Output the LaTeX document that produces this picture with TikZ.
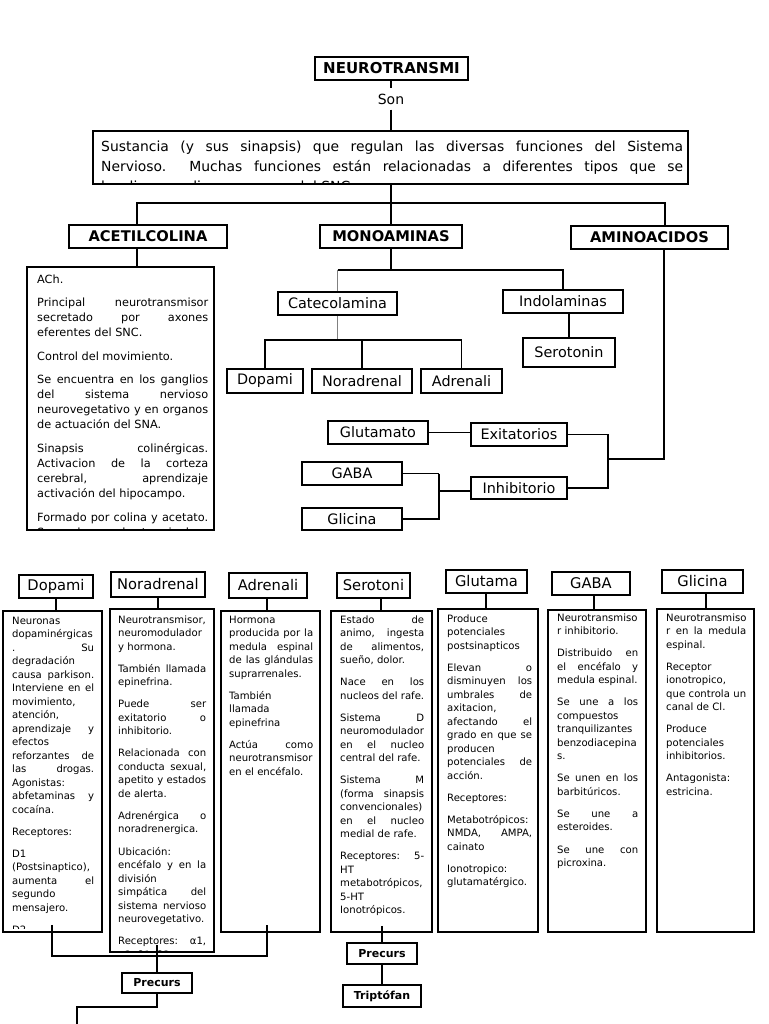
\documentclass[tikz,border=0pt]{standalone}
\usepackage{fontspec}
\setmainfont{DejaVu Sans}
\usetikzlibrary{calc}
\frenchspacing
\newcommand\jl[1]{\hbox to\hsize{\spaceskip=0.32em plus 1fil\relax #1\hskip0pt plus 0.001fil}}
\newcommand\nl[1]{\hbox{#1}}
\newcommand\pg{\vskip 8.6pt}
\newcommand\dtx[2]{\vtop{\hsize=#1pt\relax #2}}
\newcommand\bx[7]{\node[#1, minimum width={(#4)-(#2)}, minimum height={(#5)-(#3)}] (#6) at ({((#2)+(#4))/2},{((#3)+(#5))/2}) {#7};}
\tikzset{
 hb/.style={draw, line width=2pt, inner sep=0pt, font=\bfseries\fontsize{14.7}{16}\selectfont},
 lb/.style={draw, line width=1.8pt, inner sep=0pt, font=\fontsize{14.4}{16}\selectfont},
 bh/.style={draw, line width=1.8pt, inner sep=0pt, font=\fontsize{14.7}{16}\selectfont},
 pb/.style={draw, line width=2pt, inner sep=0pt, font=\bfseries\fontsize{11}{13}\selectfont},
 bigbox/.style={draw, line width=2.4pt, inner sep=0pt},
 dbox/.style={draw, line width=1.8pt, inner sep=0pt},
 dtext/.style={inner sep=0pt, font=\fontsize{10.1}{13.5}\selectfont},
 atext/.style={inner sep=0pt, font=\fontsize{11.3}{15}\selectfont},
 btext/.style={inner sep=0pt, font=\fontsize{13.9}{20}\selectfont},
 lbl/.style={inner sep=0pt, minimum height=21pt, font=\fontsize{14}{16}\selectfont},
 conn/.style={line width=1.8pt},
 thinc/.style={line width=0.9pt},
}
\begin{document}
\begin{tikzpicture}[x=1pt,y=-1pt]
\useasboundingbox (0,0) rectangle (768,1024);
% ---------- top ----------
\bx{hb,font=\bfseries\fontsize{15}{16}\selectfont}{315}{57}{468}{80}{neuro}{NEUROTRANSMI}
\node[lbl] (son) at (391,99) {Son};
\bx{bigbox}{93}{131}{688}{184}{big}{}
\begin{scope}
\clip (94.5,132.5) rectangle (686.5,182.8);
\node[btext, anchor=base west] (bigt) at (101,151.5) {\dtx{582}{%
\jl{Sustancia (y sus sinapsis) que regulan las diversas funciones del Sistema}
\jl{Nervioso.\ \ Muchas funciones están relacionadas a diferentes tipos que se}
\nl{localizan en diversas zonas del SNC.}}};
\end{scope}
\draw[conn] (neuro.south -| son) -- (son.north);
\draw[conn] (son.south) -- (son.south |- big.north);

\bx{hb}{69}{225}{227}{248}{acet}{ACETILCOLINA}
\bx{hb}{320}{225}{462}{248}{mono}{MONOAMINAS}
\bx{hb}{571}{226}{728}{249}{amino}{AMINOACIDOS}
\coordinate (jc) at (391,203);
\coordinate (jl) at (137,203);
\coordinate (jr) at (665,203);
\draw[conn] (big.south -| jc) -- (jc);
\draw[conn] (acet.north -| jl) -- (jl) -- (jr) -- (amino.north -| jr);
\draw[conn] (jc) -- (mono.north -| jc);

% ACh box
\bx{dbox}{27}{267}{214}{530}{ach}{}
\draw[conn] (acet.south -| jl) -- (ach.north -| jl);
\begin{scope}
\clip (28,268) rectangle (213,529);
\node[atext, anchor=base west] (acht) at (37,283) {\dtx{171}{%
\nl{ACh.}\pg
\jl{Principal neurotransmisor}\jl{secretado por axones}\nl{eferentes del SNC.}\pg
\nl{Control del movimiento.}\pg
\jl{Se encuentra en los ganglios}\jl{del sistema nervioso}\jl{neurovegetativo y en organos}\nl{de actuación del SNA.}\pg
\jl{Sinapsis colinérgicas.}\jl{Activacion de la corteza}\jl{cerebral, aprendizaje}\nl{activación del hipocampo.}\pg
\jl{Formado por colina y acetato.}\jl{Se produce en las terminales axónicas}}};
\end{scope}

% Monoaminas branch
\bx{lb}{278}{292}{397}{315}{cate}{Catecolamina}
\bx{lb}{503}{290}{623}{313}{indo}{Indolaminas}
\bx{lb}{523}{338}{615}{367}{sero}{Serotonin}
\bx{lb}{227}{369}{303}{393}{dop}{Dopami}
\bx{lb}{312}{369}{412}{393}{nor}{Noradrenal}
\bx{lb}{421}{369}{502}{393}{adr}{Adrenali}
\coordinate (mj) at (391,270);
\draw[conn] (mono.south -| mj) -- (mj);
\draw[thinc, gray] (cate.north) -- (cate.north |- mj);
\draw[conn] (cate.north |- mj) -- (mj) -| (indo.north);
\draw[conn] (sero.north) -- (sero.north |- indo.south);
\coordinate (cj) at (337.5,340);
\draw[thinc, gray] (cate.south) -- (cj);
\draw[conn] (dop.north) |- (cj) -| (adr.north);
\draw[conn] (nor.north) -- (nor.north |- cj);

% Aminoacidos branch
\bx{lb}{328}{421}{428}{444}{glu}{Glutamato}
\bx{lb}{471}{423}{567}{446}{exi}{Exitatorios}
\bx{lb}{302}{462}{402}{485}{gaba}{GABA}
\bx{lb}{302}{508}{402}{530}{glic}{Glicina}
\bx{lb}{471}{477}{567}{499}{inh}{Inhibitorio}
\coordinate (ax) at (664,459);
\coordinate (ay) at (608,459);
\draw[conn] (amino.south -| ax) -- (ax) -- (ay);
\draw[conn] (exi.east) -| (ay) |- (inh.east);
\draw[thinc] (glu.east) -- (glu.east -| exi.west);
\coordinate (gx) at (439,491);
\draw[thinc] (gaba.east) -- (gaba.east -| gx);
\draw[conn] (gaba.east -| gx) -- (gx) |- (glic.east);
\draw[conn] (gx) -- (gx -| inh.west);

% ---------- bottom columns ----------
% Dopami
\bx{bh}{19}{575}{93}{598}{hdop}{Dopami}
\bx{dbox}{3}{611}{102}{932}{ddop}{}
\coordinate (cdop) at (56,0);
\draw[conn] (hdop.south -| cdop) -- (ddop.north -| cdop);
\begin{scope}
\clip (4,612) rectangle (101,928);
\node[dtext, anchor=base west] (tdop) at (12,624) {\dtx{82}{%
\jl{Neuronas}\jl{dopaminérgicas}\jl{. Su}\jl{degradación}\jl{causa parkison.}\jl{Interviene en el}\jl{movimiento,}\jl{atención,}\jl{aprendizaje y}\jl{efectos}\jl{reforzantes de}\jl{las drogas.}\jl{Agonistas:}\jl{abfetaminas y}\nl{cocaína.}\pg
\nl{Receptores:}\pg
\jl{D1}\jl{(Postsinaptico),}\jl{aumenta el}\jl{segundo}\nl{mensajero.}\pg
\nl{D2}}};
\end{scope}

% Noradrenal
\bx{bh}{111}{572}{205}{597}{hnor}{Noradrenal}
\bx{dbox}{110}{609}{214}{952}{dnor}{}
\coordinate (cnor) at (158,0);
\draw[conn] (hnor.south -| cnor) -- (dnor.north -| cnor);
\begin{scope}
\clip (111,610) rectangle (213,950);
\node[dtext, anchor=base west] (tnor) at (118,623) {\dtx{88}{%
\jl{Neurotransmisor,}\jl{neuromodulador}\nl{y hormona.}\pg
\jl{También llamada}\nl{epinefrina.}\pg
\jl{Puede ser}\jl{exitatorio o}\nl{inhibitorio.}\pg
\jl{Relacionada con}\jl{conducta sexual,}\jl{apetito y estados}\nl{de alerta.}\pg
\jl{Adrenérgica o}\nl{noradrenergica.}\pg
\jl{Ubicación:}\jl{encéfalo y en la}\jl{división}\jl{simpática del}\jl{sistema nervioso}\nl{neurovegetativo.}\pg
\jl{Receptores: α1,}\nl{α2, β1, β2.}}};
\end{scope}

% Adrenali
\bx{bh}{229}{573}{307}{598}{hadr}{Adrenali}
\bx{dbox}{221}{611}{320}{932}{dadr}{}
\coordinate (cadr) at (267,0);
\draw[conn] (hadr.south -| cadr) -- (dadr.north -| cadr);
\begin{scope}
\clip (222,612) rectangle (319,929);
\node[dtext, anchor=base west] (tadr) at (229,623) {\dtx{84}{%
\jl{Hormona}\jl{producida por la}\jl{medula espinal}\jl{de las glándulas}\nl{suprarrenales.}\pg
\jl{También}\jl{llamada}\nl{epinefrina}\pg
\jl{Actúa como}\jl{neurotransmisor}\nl{en el encéfalo.}}};
\end{scope}

% Serotoni
\bx{bh}{337}{573}{410}{598}{hser}{Serotoni}
\bx{dbox}{331}{611}{432}{932}{dser}{}
\coordinate (cser) at (381,0);
\draw[conn] (hser.south -| cser) -- (dser.north -| cser);
\begin{scope}
\clip (332,612) rectangle (431,929);
\node[dtext, anchor=base west] (tser) at (340,623) {\dtx{84}{%
\jl{Estado de}\jl{animo, ingesta}\jl{de alimentos,}\nl{sueño, dolor.}\pg
\jl{Nace en los}\nl{nucleos del rafe.}\pg
\jl{Sistema D}\jl{neuromodulador}\jl{en el nucleo}\nl{central del rafe.}\pg
\jl{Sistema M}\jl{(forma sinapsis}\jl{convencionales)}\jl{en el nucleo}\nl{medial de rafe.}\pg
\jl{Receptores: 5-}\jl{HT}\jl{metabotrópicos,}\jl{5-HT}\nl{Ionotrópicos.}}};
\end{scope}

% Glutama
\bx{bh}{446}{570}{527}{593}{hglu}{Glutama}
\bx{dbox}{438}{609}{538}{932}{dglu}{}
\coordinate (cglu) at (486,0);
\draw[conn] (hglu.south -| cglu) -- (dglu.north -| cglu);
\begin{scope}
\clip (439,610) rectangle (537,929);
\node[dtext, anchor=base west] (tglu) at (447,622) {\dtx{85}{%
\jl{Produce}\jl{potenciales}\nl{postsinapticos}\pg
\jl{Elevan o}\jl{disminuyen los}\jl{umbrales de}\jl{axitacion,}\jl{afectando el}\jl{grado en que se}\jl{producen}\jl{potenciales de}\nl{acción.}\pg
\nl{Receptores:}\pg
\jl{Metabotrópicos:}\jl{NMDA, AMPA,}\nl{cainato}\pg
\jl{Ionotropico:}\nl{glutamatérgico.}}};
\end{scope}

% GABA
\bx{bh}{552}{572}{630}{595}{hgab}{GABA}
\bx{dbox}{548}{610}{646}{932}{dgab}{}
\coordinate (cgab) at (594,0);
\draw[conn] (hgab.south -| cgab) -- (dgab.north -| cgab);
\begin{scope}
\clip (549,611) rectangle (645,929);
\node[dtext, anchor=base west] (tgab) at (557,621) {\dtx{81}{%
\jl{Neurotransmiso}\nl{r inhibitorio.}\pg
\jl{Distribuido en}\jl{el encéfalo y}\nl{medula espinal.}\pg
\jl{Se une a los}\jl{compuestos}\jl{tranquilizantes}\jl{benzodiacepina}\nl{s.}\pg
\jl{Se unen en los}\nl{barbitúricos.}\pg
\jl{Se une a}\nl{esteroides.}\pg
\jl{Se une con}\nl{picroxina.}}};
\end{scope}

% Glicina
\bx{bh}{662}{570}{743}{593}{hgli}{Glicina}
\bx{dbox}{657}{609}{754}{932}{dgli}{}
\coordinate (cgli) at (706,0);
\draw[conn] (hgli.south -| cgli) -- (dgli.north -| cgli);
\begin{scope}
\clip (658,610) rectangle (753,929);
\node[dtext, anchor=base west] (tgli) at (666,621) {\dtx{80}{%
\jl{Neurotransmiso}\jl{r en la medula}\nl{espinal.}\pg
\jl{Receptor}\jl{ionotropico,}\jl{que controla un}\nl{canal de Cl.}\pg
\jl{Produce}\jl{potenciales}\nl{inhibitorios.}\pg
\jl{Antagonista:}\nl{estricina.}}};
\end{scope}

% bottom connectors
\coordinate (dl) at (52,956);
\coordinate (dr) at (267,956);
\draw[conn] ($(ddop.south -| dl)+(0,-8)$) -- (dl) -- (dr) -- ($(dadr.south -| dr)+(0,-8)$);
\bx{pb}{122}{973}{192}{993}{pre1}{Precurs}
\draw[conn] ($(dnor.south -| pre1)+(0,-8)$) -- (pre1.north);
\coordinate (pa) at (157,1007);
\coordinate (pbb) at (77,1007);
\coordinate (pend) at (77,1030);
\draw[conn] (pre1.south) -- (pa) -- (pbb) -- (pend);
\bx{pb}{347}{943}{417}{964}{pre2}{Precurs}
\bx{pb}{343}{985}{421}{1007}{trip}{Triptófan}
\draw[conn] ($(dser.south -| pre2)+(0,-7)$) -- (pre2.north);
\draw[conn] (pre2.south) -- (trip.north);
\end{tikzpicture}
\end{document}
